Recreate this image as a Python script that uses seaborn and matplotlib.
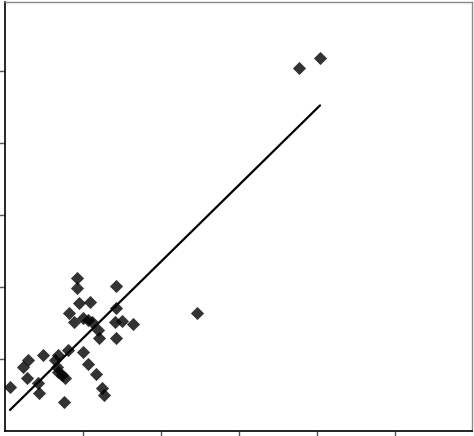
import numpy as np
import pandas as pd
import matplotlib
matplotlib.use("Agg")
import matplotlib.pyplot as plt
import seaborn as sns

# values (arbitrary units, 78 per x tick, 72 per y tick)
x_vals = [5, 18, 23, 22, 33, 34, 38, 50, 52, 53, 57, 60, 53, 63, 59, 72, 72, 74, 85, 64, 69,
          78, 83, 87, 93, 94, 78, 83, 91, 97, 99, 111, 111, 110, 117, 111, 128, 192, 294, 315]
y_vals = [44, 64, 71, 53, 48, 38, 76, 71, 64, 59, 56, 53, 76, 81, 29, 153, 143, 128, 129, 118,
          109, 113, 111, 109, 101, 93, 79, 67, 57, 43, 36, 145, 123, 109, 110, 93, 107, 118, 363, 373]

df = pd.DataFrame({"x": x_vals, "y": y_vals})

sns.set_style("white")
fig = plt.figure(figsize=(4.74, 4.36), dpi=100)
ax = fig.add_axes([5 / 474, 5 / 436, 467 / 474, 429 / 436])

sns.regplot(data=df, x="x", y="y", ax=ax, ci=None, truncate=True,
            marker="D", color="black",
            scatter_kws={"s": 45, "linewidths": 0},
            line_kws={"linewidth": 1.6})

ax.set_xlim(0, 467)
ax.set_ylim(0, 429)
ax.set_xticks([78, 156, 234, 312, 390])
ax.set_yticks([72, 144, 216, 288, 360])
ax.set_xticklabels([])
ax.set_yticklabels([])
ax.tick_params(direction="out", length=4, width=1, color="#555555",
               bottom=True, left=True)
ax.set_xlabel("")
ax.set_ylabel("")
for side in ["left", "bottom"]:
    ax.spines[side].set_color("black")
    ax.spines[side].set_linewidth(1.2)
for side in ["top", "right"]:
    ax.spines[side].set_color("#888888")
    ax.spines[side].set_linewidth(1.0)

fig.savefig("out.png", dpi=100)
